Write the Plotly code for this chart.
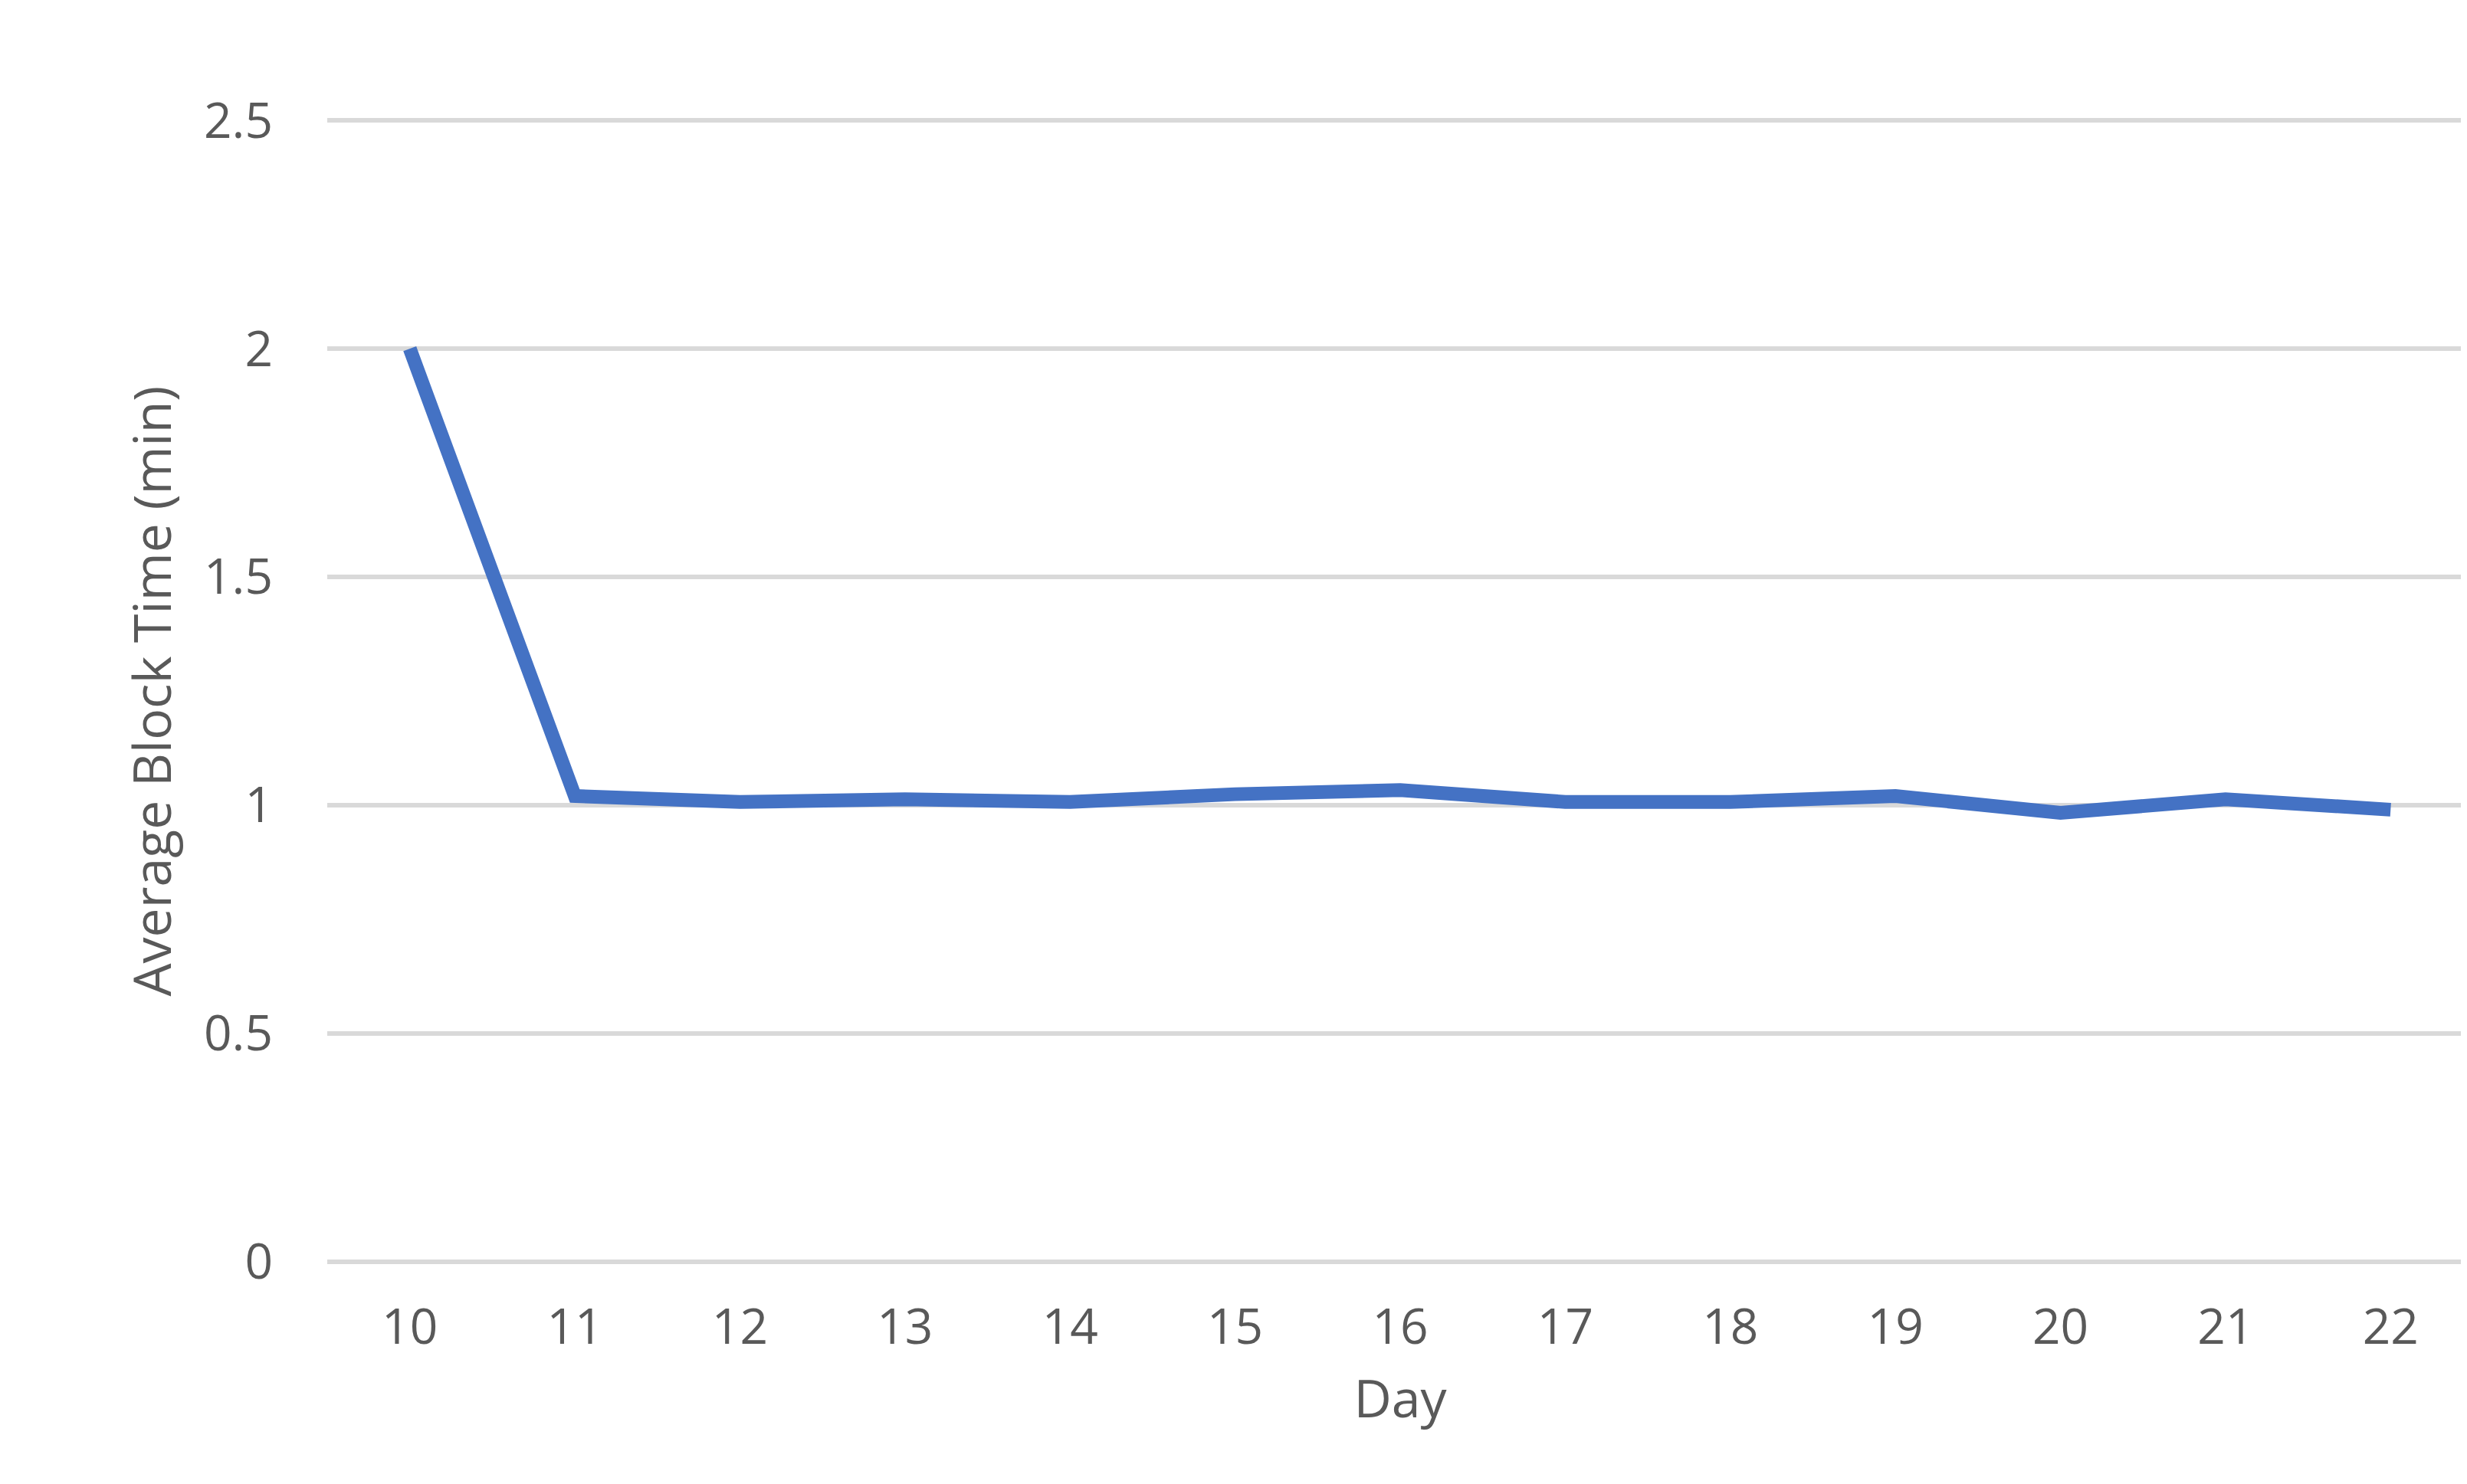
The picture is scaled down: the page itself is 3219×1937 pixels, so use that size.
import plotly.graph_objects as go

days = ["10","11","12","13","14","15","16","17","18","19","20","21","22"]
block_time = [2.0,1.02,1.007,1.013,1.007,1.024,1.033,1.007,1.007,1.02,0.983,1.013,0.99]
y_ticks = [0,0.5,1,1.5,2,2.5]
y_labels = ["0","0.5","1","1.5","2","2.5"]

fig = go.Figure(go.Scatter(x=days, y=block_time, mode="lines",
                           line=dict(color="#4472C4", width=18)))
font = dict(family="Open Sans, Noto Sans, sans-serif", color="#595959", size=64)
fig.update_layout(
    width=3219, height=1937, paper_bgcolor="white", plot_bgcolor="white",
    margin=dict(l=419, r=0, t=147, b=296), showlegend=False, font=font,
)
fig.update_xaxes(type="category", range=[-0.5, 12.5], showgrid=False, showline=False, ticks="",
                 ticklabelstandoff=40,
                 title=dict(text="Day", font=dict(size=68), standoff=30))
fig.update_yaxes(range=[-0.004, 2.504], tickvals=y_ticks, ticktext=y_labels,
                 gridcolor="#D9D9D9", gridwidth=6, zeroline=False, ticks="", ticklabelstandoff=70,
                 title=dict(text="Average Block Time (min)", font=dict(size=68), standoff=20))
fig.write_html("out.html")
